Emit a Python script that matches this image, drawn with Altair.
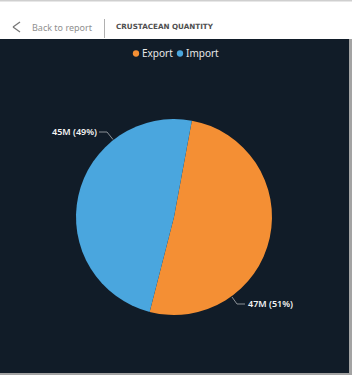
import altair as alt
import pandas as pd

categories = ["Export", "Import"]
values_m = [47, 45]
colors = ["#F48F34", "#4AA6DE"]

total = sum(values_m)
labels = [f"{v}M ({round(v / total * 100)}%)" for v in values_m]
df = pd.DataFrame({"cat": categories, "val": values_m, "label": labels, "ord": [0, 1]})

BG = "#111C28"
one = alt.Data(values=[{}])

def rect(x, x2, y, y2, color):
    return alt.Chart(one).mark_rect(color=color).encode(
        x=alt.value(x), x2=alt.value(x2), y=alt.value(y), y2=alt.value(y2))

def seg(x, y, x2, y2, color, w=1.0):
    return alt.Chart(one).mark_rule(color=color, strokeWidth=w).encode(
        x=alt.value(x), y=alt.value(y), x2=alt.value(x2), y2=alt.value(y2))

def txt(s, x, y, size, color, weight="normal", align="left", font="Noto Sans"):
    return alt.Chart(one).mark_text(text=s, fontSize=size, color=color, fontWeight=weight,
                                    align=align, baseline="middle", font=font).encode(
        x=alt.value(x), y=alt.value(y))

panel = rect(0, 349, 39, 373, BG)
topline = rect(0, 352, 0, 1.5, "#cfcfcf")
rightb = rect(349, 352, 39, 375, "#a3a3a3")
bottomb = rect(0, 352, 373, 375, "#a3a3a3")

chev1 = seg(20, 22, 13, 27, "#777777", 1.3)
chev2 = seg(13, 27, 20, 32, "#777777", 1.3)
back = txt("Back to report", 32, 27.5, 9, "#8f8f8f")
sep = seg(104.5, 19, 104.5, 38, "#b0b0b0", 1)
title = txt("CRUSTACEAN QUANTITY", 116, 27, 7.2, "#505050", weight="bold", font="DejaVu Sans")

start = 0.183
pie = alt.Chart(df).mark_arc(outerRadius=98).encode(
    theta=alt.Theta("val:Q", stack=True, scale=alt.Scale(range=[start, start + 6.283185])),
    color=alt.Color("cat:N", scale=alt.Scale(domain=categories, range=colors),
                    legend=alt.Legend(title=None, orient="none", legendX=131, legendY=48.5,
                                      direction="horizontal", symbolType="circle",
                                      symbolSize=40, symbolStrokeWidth=0,
                                      labelColor="#E8E8E8", labelFontSize=10,
                                      labelFont="Noto Sans", columnPadding=2,
                                      labelOffset=1)),
    order=alt.Order("ord:Q"),
    x=alt.value(174), y=alt.value(217),
)

lab_imp = txt(labels[1], 97, 132, 9, "#F2F2F2", weight=600, align="right")
lab_exp = txt(labels[0], 248, 304, 9, "#F2F2F2", weight=600, align="left")
lead_imp1 = seg(99, 132, 107, 132, "#8b9096", 1)
lead_imp2 = seg(107, 132, 113, 139.5, "#8b9096", 1)
lead_exp1 = seg(232, 297, 237, 304, "#8b9096", 1)
lead_exp2 = seg(237, 304, 245, 304, "#8b9096", 1)

chart = alt.layer(
    panel, topline, rightb, bottomb, chev1, chev2, back, sep, title,
    pie, lab_imp, lab_exp, lead_imp1, lead_imp2, lead_exp1, lead_exp2
).properties(
    width=352, height=375, autosize=alt.AutoSizeParams(type="none"), padding=0,
    background="white"
).configure_view(stroke=None)

chart.save("out.html", embed_options={"renderer": "svg", "actions": False})
